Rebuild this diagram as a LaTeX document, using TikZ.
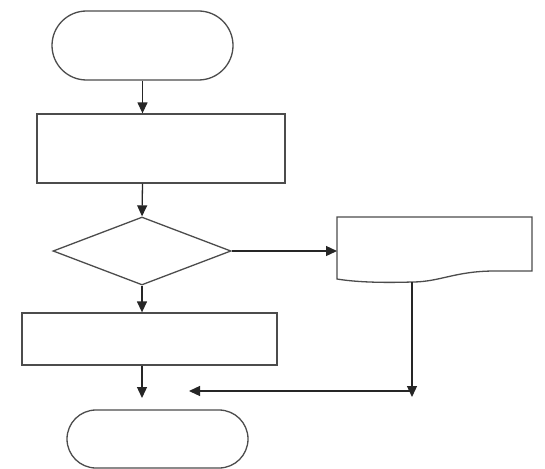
\documentclass[tikz,border=0pt]{standalone}
\usetikzlibrary{shapes.geometric,arrows.meta}
\begin{document}
\begin{tikzpicture}[x=1pt,y=-1pt,
  shapeline/.style={draw=black!70,line width=1.3pt},
  termbox/.style={shapeline,rectangle,minimum width=181pt,inner sep=0pt},
  procbox/.style={shapeline,rectangle,inner sep=0pt},
  decbox/.style={shapeline,diamond,inner sep=0pt},
  flow/.style={draw=black!85,line width=1.3pt,-{Triangle[length=11pt,width=10pt]}}]
\useasboundingbox (0,0) rectangle (545,468);
\fill[white] (0,0) rectangle (545,468);
% start terminator
\node[termbox,minimum height=69pt,rounded corners=34.5pt] (start) at (142.5,45.5) {};
% process 1
\node[procbox,minimum width=248pt,minimum height=69pt] (p1) at (161,148.5) {};
% decision
\node[decbox,minimum width=178pt,minimum height=68pt,aspect=2.6] (dec) at (142,251) {};
% process 2
\node[procbox,minimum width=255pt,minimum height=52pt] (p2) at (149.5,339) {};
% end terminator
\node[termbox,minimum height=58pt,rounded corners=29pt] (stop) at (157.5,439) {};
% document shape
\coordinate (docw) at (337,251);
\coordinate (docb) at (412,282);
\draw[shapeline] (337,217) -- (532,217) -- (532,271) -- (495,271)
  .. controls (455,271) and (440,282) .. (412,282)
  .. controls (380,283) and (355,282) .. (337,279) -- cycle;
% free ends
\coordinate (p2end) at (142,398);
\coordinate (corner) at (412,397);
\coordinate (cornerh) at (412,391);
\coordinate (leftend) at (189,391);
% connectors
\draw[flow] (start.south) -- (start.south |- p1.north);
\draw[flow] (start.south |- p1.south) -- (dec.north);
\draw[flow] (dec.south) -- (dec.south |- p2.north);
\draw[flow] (dec.east) -- (docw);
\draw[flow] (dec.south |- p2.south) -- (p2end);
\draw[flow] (docb) -- (corner);
\draw[flow] (cornerh) -- (leftend);
\end{tikzpicture}
\end{document}
